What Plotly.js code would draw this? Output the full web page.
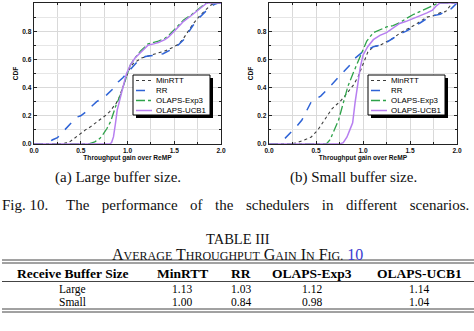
<!DOCTYPE html>
<html>
<head>
<meta charset="utf-8">
<script src="https://cdn.plot.ly/plotly-3.0.1.min.js"></script>
<style>html,body{margin:0;padding:0;background:#fff;}#chart{width:474px;height:331px;}</style>
</head>
<body>
<div id="chart"></div>
<script>
// ---------- data ----------
const seriesNames = ['MinRTT', 'RR', 'OLAPS-Exp3', 'OLAPS-UCB1'];

// (a) Large buffer size: CDF of throughput gain over ReMP
const largeMinRTTx = [0, 0.30, 0.385, 0.45, 0.49, 0.55, 0.60, 0.65, 0.706, 0.76, 0.81, 0.85, 0.88, 0.91, 0.94, 0.97, 0.99, 1.02, 1.06, 1.10, 1.15, 1.20, 1.30, 1.40, 1.50, 1.55, 1.60, 1.65, 1.70, 1.76, 1.82, 1.88, 1.93, 2.0];
const largeMinRTTy = [0, 0, 0.017, 0.05, 0.076, 0.10, 0.12, 0.145, 0.17, 0.20, 0.23, 0.26, 0.29, 0.33, 0.38, 0.44, 0.48, 0.53, 0.57, 0.59, 0.61, 0.62, 0.64, 0.66, 0.69, 0.71, 0.75, 0.80, 0.85, 0.90, 0.94, 0.98, 1.0, 1.0];
const largeRRx = [0, 0.12, 0.20, 0.25, 0.31, 0.38, 0.456, 0.50, 0.56, 0.62, 0.67, 0.72, 0.78, 0.85, 0.90, 0.95, 0.99, 1.05, 1.10, 1.19, 1.30, 1.38, 1.44, 1.50, 1.54, 1.60, 1.65, 1.70, 1.76, 1.82, 1.88, 1.93, 1.97, 2.0];
const largeRRy = [0, 0, 0.03, 0.045, 0.087, 0.14, 0.19, 0.20, 0.23, 0.27, 0.30, 0.32, 0.35, 0.395, 0.44, 0.47, 0.50, 0.55, 0.58, 0.62, 0.63, 0.64, 0.66, 0.68, 0.70, 0.74, 0.79, 0.84, 0.89, 0.93, 0.97, 0.99, 1.0, 1.0];
const largeExp3x = [0, 0.58, 0.65, 0.706, 0.74, 0.78, 0.82, 0.85, 0.88, 0.92, 0.96, 0.99, 1.03, 1.08, 1.14, 1.22, 1.28, 1.33, 1.40, 1.44, 1.50, 1.54, 1.60, 1.69, 1.75, 1.79, 1.84, 2.0];
const largeExp3y = [0, 0, 0.015, 0.04, 0.07, 0.11, 0.16, 0.22, 0.28, 0.34, 0.42, 0.49, 0.56, 0.61, 0.66, 0.71, 0.72, 0.73, 0.75, 0.77, 0.81, 0.84, 0.88, 0.92, 0.95, 0.97, 1.0, 1.0];
const largeUCB1x = [0, 0.81, 0.83, 0.85, 0.87, 0.89, 0.92, 0.94, 0.97, 0.99, 1.03, 1.08, 1.14, 1.22, 1.28, 1.33, 1.40, 1.44, 1.50, 1.54, 1.60, 1.69, 1.75, 1.79, 1.85, 2.0];
const largeUCB1y = [0, 0, 0.01, 0.05, 0.14, 0.24, 0.32, 0.38, 0.45, 0.50, 0.56, 0.61, 0.65, 0.70, 0.71, 0.72, 0.74, 0.76, 0.80, 0.83, 0.87, 0.915, 0.945, 0.97, 1.0, 1.0];

// (b) Small buffer size
const smallMinRTTx = [0, 0.24, 0.30, 0.35, 0.40, 0.45, 0.52, 0.56, 0.60, 0.67, 0.72, 0.755, 0.83, 0.90, 0.95, 1.0, 1.05, 1.11, 1.18, 1.25, 1.32, 1.39, 1.46, 1.54, 1.61, 1.68, 1.75, 1.82, 1.88, 1.95, 2.0];
const smallMinRTTy = [0, 0, 0.01, 0.02, 0.035, 0.05, 0.10, 0.14, 0.18, 0.25, 0.28, 0.30, 0.36, 0.42, 0.48, 0.56, 0.65, 0.69, 0.70, 0.725, 0.75, 0.785, 0.81, 0.84, 0.87, 0.90, 0.91, 0.93, 0.94, 1.0, 1.0];
const smallRRx = [0, 0.10, 0.17, 0.24, 0.30, 0.35, 0.40, 0.45, 0.50, 0.55, 0.61, 0.68, 0.74, 0.81, 0.86, 0.90, 0.95, 0.99, 1.05, 1.11, 1.18, 1.25, 1.32, 1.39, 1.46, 1.54, 1.61, 1.68, 1.75, 1.82, 1.88, 1.94, 2.0];
const smallRRy = [0, 0, 0.04, 0.087, 0.13, 0.17, 0.24, 0.30, 0.32, 0.34, 0.38, 0.43, 0.47, 0.52, 0.56, 0.60, 0.63, 0.65, 0.67, 0.69, 0.70, 0.72, 0.75, 0.78, 0.80, 0.83, 0.86, 0.89, 0.91, 0.92, 0.94, 0.96, 1.0];
const smallExp3x = [0, 0.61, 0.65, 0.68, 0.74, 0.79, 0.84, 0.90, 0.96, 1.0, 1.04, 1.11, 1.18, 1.25, 1.32, 1.39, 1.46, 1.54, 1.61, 1.68, 1.74, 1.80, 2.0];
const smallExp3y = [0, 0, 0.03, 0.076, 0.17, 0.29, 0.41, 0.51, 0.60, 0.67, 0.73, 0.79, 0.81, 0.83, 0.84, 0.86, 0.89, 0.92, 0.94, 0.96, 0.98, 1.0, 1.0];
const smallUCB1x = [0, 0.755, 0.79, 0.83, 0.86, 0.89, 0.915, 0.93, 0.95, 0.97, 1.0, 1.05, 1.11, 1.18, 1.25, 1.32, 1.39, 1.46, 1.54, 1.61, 1.68, 1.74, 1.78, 1.82, 2.0];
const smallUCB1y = [0, 0, 0.01, 0.05, 0.10, 0.15, 0.29, 0.36, 0.45, 0.54, 0.63, 0.69, 0.74, 0.77, 0.79, 0.82, 0.855, 0.87, 0.89, 0.91, 0.93, 0.95, 0.98, 1.0, 1.0];

const xTickVals = [0, 0.5, 1.0, 1.5, 2.0];
const yTickVals = [0, 0.2, 0.4, 0.6, 0.8, 1.0];

const subCaptions = ['(a) Large buffer size.', '(b) Small buffer size.'];
const figLabel = 'Fig. 10.';
const figCaption = 'The performance of the schedulers in different scenarios.';

// Table III
const tableHeader = ['Receive Buffer Size', 'MinRTT', 'RR', 'OLAPS-Exp3', 'OLAPS-UCB1'];
const tableRowLabels = ['Large', 'Small'];
const tableMinRTT = [1.13, 1.00];
const tableRR = [1.03, 0.84];
const tableExp3 = [1.12, 0.98];
const tableUCB1 = [1.14, 1.04];

// ---------- styling ----------
const W = 474, H = 331;
const px = v => v / W;
const py = v => 1 - v / H;
const styles = [
  {color: '#3c3c3c', width: 1.1, dash: 'dot'},
  {color: '#2e63d6', width: 1.5, dash: 'dash'},
  {color: '#2ea24a', width: 1.3, dash: 'dashdot'},
  {color: '#b77ff0', width: 1.5, dash: 'solid'}
];
const sans = 'Liberation Sans, Arial, sans-serif';
const serif = 'Liberation Serif, Times New Roman, serif';
const axFont = {family: sans, size: 6.6, color: '#111', weight: 'bold'};

const panels = [
  {xs: [largeMinRTTx, largeRRx, largeExp3x, largeUCB1x], ys: [largeMinRTTy, largeRRy, largeExp3y, largeUCB1y], xa: 'x', ya: 'y'},
  {xs: [smallMinRTTx, smallRRx, smallExp3x, smallUCB1x], ys: [smallMinRTTy, smallRRy, smallExp3y, smallUCB1y], xa: 'x2', ya: 'y2'}
];

const traces = [];
panels.forEach(p => {
  seriesNames.forEach((n, i) => {
    traces.push({type: 'scatter', mode: 'lines', name: n, x: p.xs[i], y: p.ys[i],
      xaxis: p.xa, yaxis: p.ya, line: Object.assign({}, styles[i]), showlegend: false, hoverinfo: 'skip'});
  });
});

function xAxis(domain, anchor) {
  return {domain: domain, anchor: anchor, range: [0, 2], tickvals: xTickVals, tickformat: '.1f',
    ticks: 'inside', ticklen: 3, tickcolor: '#222', showgrid: true, gridcolor: '#d9d9d9', gridwidth: 1,
    minor: {dtick: 0.25, showgrid: true, gridcolor: '#d9d9d9', ticks: 'inside', ticklen: 2, tickcolor: '#222'},
    showline: true, mirror: 'ticks', linecolor: '#222', linewidth: 1.3, zeroline: false,
    tickfont: axFont,
    title: {text: 'Throughput gain over ReMP', font: axFont, standoff: 1}};
}
function yAxis(domain, anchor) {
  return {domain: domain, anchor: anchor, range: [0, 1], tickvals: yTickVals, tickformat: '.1f',
    ticks: 'inside', ticklen: 3, tickcolor: '#222', showgrid: true, gridcolor: '#d9d9d9', gridwidth: 1,
    minor: {dtick: 0.1, showgrid: true, gridcolor: '#e6e6e6', ticks: 'inside', ticklen: 2, tickcolor: '#222'},
    showline: true, mirror: 'ticks', linecolor: '#222', linewidth: 1.3, zeroline: false,
    tickfont: axFont,
    title: {text: 'CDF', font: axFont, standoff: 3}};
}
const yDom = [py(144), py(3)];

const shapes = [];
const annotations = [];

// legends (drawn as boxes with shadow, line samples and labels)
[133, 368].forEach(bx => {
  const by = 75, bw = 77, bh = 40;
  shapes.push({type: 'rect', xref: 'paper', yref: 'paper', x0: px(bx + 3), x1: px(bx + bw + 3), y0: py(by + bh + 3), y1: py(by + 3),
    fillcolor: '#000', line: {width: 0}, layer: 'above'});
  shapes.push({type: 'rect', xref: 'paper', yref: 'paper', x0: px(bx), x1: px(bx + bw), y0: py(by + bh), y1: py(by),
    fillcolor: '#fff', line: {color: '#000', width: 1}, layer: 'above'});
  seriesNames.forEach((n, i) => {
    const ry = by + 5.5 + i * 10;
    shapes.push({type: 'line', xref: 'paper', yref: 'paper', x0: px(bx + 3), x1: px(bx + 19), y0: py(ry), y1: py(ry),
      line: {color: styles[i].color, width: styles[i].width, dash: styles[i].dash}, layer: 'above'});
    annotations.push({xref: 'paper', yref: 'paper', x: px(bx + 21), y: py(ry), xanchor: 'left', yanchor: 'middle',
      text: n, showarrow: false, font: {family: sans, size: 7.9, color: '#000'}});
  });
});

// sub captions
[[117.5, 177], [353, 177]].forEach((pos, i) => {
  annotations.push({xref: 'paper', yref: 'paper', x: px(pos[0]), y: py(pos[1]), xanchor: 'center', yanchor: 'middle',
    text: subCaptions[i], showarrow: false, font: {family: serif, size: 15, color: '#111'}});
});
annotations.push({xref: 'paper', yref: 'paper', x: px(0), y: py(205), xanchor: 'left', yanchor: 'middle',
  text: figLabel, showarrow: false, font: {family: serif, size: 15, color: '#111'}});
annotations.push({xref: 'paper', yref: 'paper', x: px(64), y: py(205), xanchor: 'left', yanchor: 'middle',
  text: figCaption.split(' ').join(' \u2002\u200A'), showarrow: false, font: {family: serif, size: 15, color: '#111'}});

// table title
annotations.push({xref: 'paper', yref: 'paper', x: px(237.5), y: py(238.5), xanchor: 'center', yanchor: 'middle',
  text: 'TABLE III', showarrow: false, font: {family: serif, size: 14.5, color: '#111'}});
const sc = s => s.split(' ').map(w => w[0] + '<span style="font-size:12px">' + w.slice(1) + '</span>').join(' ');
annotations.push({xref: 'paper', yref: 'paper', x: px(237), y: py(254.5), xanchor: 'center', yanchor: 'middle',
  text: sc('AVERAGE THROUGHPUT GAIN IN FIG.') + ' <span style="color:#3b3bd0">10</span>', showarrow: false,
  font: {family: serif, size: 16, color: '#111'}});

// table body
const colX = [72, 182, 241, 312, 419];
tableHeader.forEach((h, j) => {
  annotations.push({xref: 'paper', yref: 'paper', x: px(colX[j]), y: py(273), xanchor: 'center', yanchor: 'middle',
    text: '<b>' + h + '</b>', showarrow: false, font: {family: serif, size: 13.5, color: '#000'}});
});
const tableCols = [tableMinRTT, tableRR, tableExp3, tableUCB1];
tableRowLabels.forEach((r, i) => {
  const ry = 289 + i * 13;
  annotations.push({xref: 'paper', yref: 'paper', x: px(colX[0]), y: py(ry), xanchor: 'center', yanchor: 'middle',
    text: r, showarrow: false, font: {family: serif, size: 11.5, color: '#000'}});
  tableCols.forEach((col, j) => {
    annotations.push({xref: 'paper', yref: 'paper', x: px(colX[j + 1]), y: py(ry), xanchor: 'center', yanchor: 'middle',
      text: col[i].toFixed(2), showarrow: false, font: {family: serif, size: 11.5, color: '#000'}});
  });
});
[260, 263, 281.5, 309, 312].forEach(ly => {
  shapes.push({type: 'line', xref: 'paper', yref: 'paper', x0: px(2), x1: px(474), y0: py(ly), y1: py(ly),
    line: {color: '#444', width: 1}});
});

const layout = {
  width: W, height: H, margin: {l: 0, r: 0, t: 0, b: 0},
  paper_bgcolor: '#fff', plot_bgcolor: '#fff', showlegend: false,
  xaxis: xAxis([px(34), px(221)], 'y'),
  yaxis: yAxis(yDom, 'x'),
  xaxis2: xAxis([px(269), px(457)], 'y2'),
  yaxis2: yAxis(yDom, 'x2'),
  shapes: shapes, annotations: annotations
};

Plotly.newPlot('chart', traces, layout, {staticPlot: true, displayModeBar: false});
</script>
</body>
</html>
